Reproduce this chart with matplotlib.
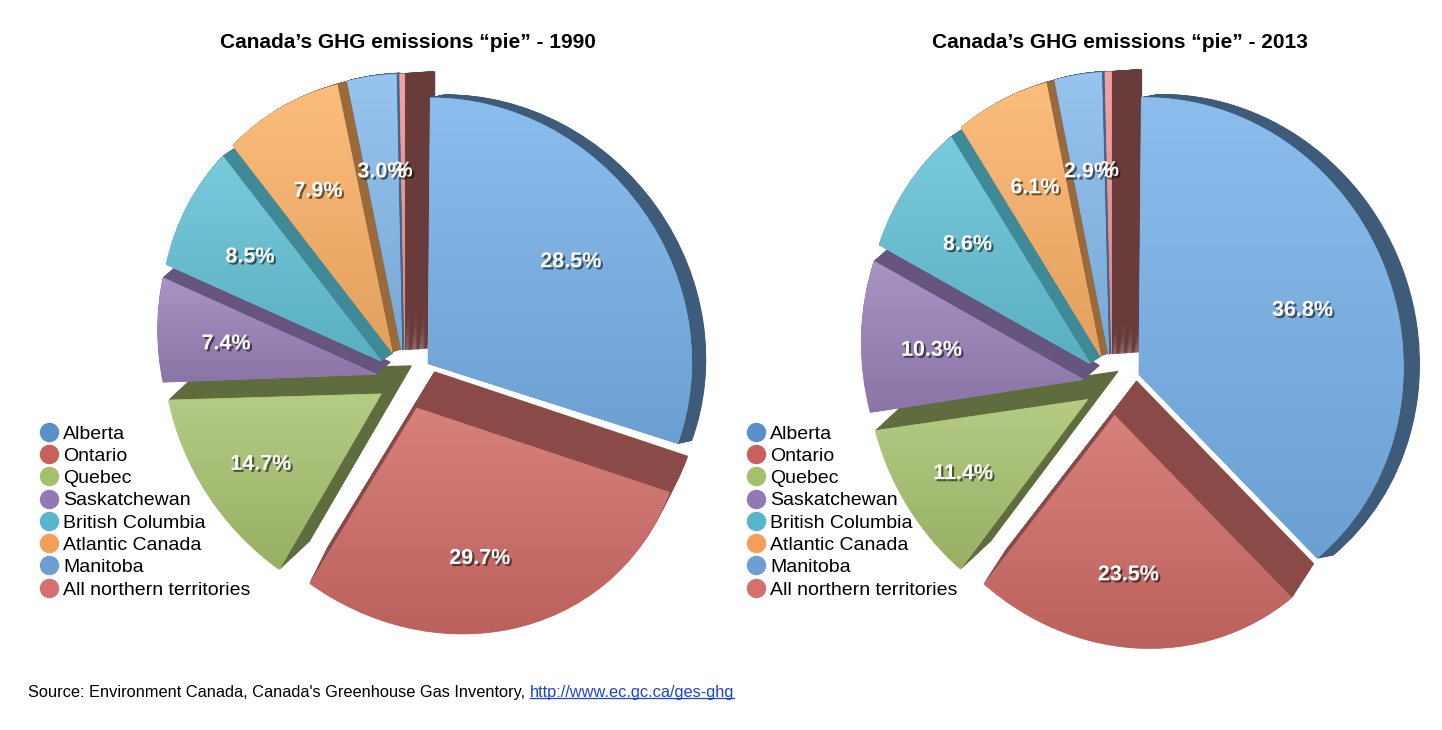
import numpy as np
import matplotlib
matplotlib.use("Agg")
import matplotlib.pyplot as plt
import matplotlib.patheffects as pe
from matplotlib.colors import to_rgb
from matplotlib.lines import Line2D
from matplotlib.transforms import Transform, Affine2D

plt.rcParams['font.family'] = ['Liberation Sans', 'DejaVu Sans']

# data
regions = ['Alberta', 'Ontario', 'Quebec', 'Saskatchewan', 'British Columbia',
           'Atlantic Canada', 'Manitoba', 'All northern territories']
share_1990 = [28.5, 29.7, 14.7, 7.4, 8.5, 7.9, 3.0, 0.3]
share_2013 = [36.8, 23.5, 11.4, 10.3, 8.6, 6.1, 2.9, 0.4]
titles = ['Canada\u2019s GHG emissions \u201cpie\u201d - 1990',
          'Canada\u2019s GHG emissions \u201cpie\u201d - 2013']
source = "Source: Environment Canada, Canada's Greenhouse Gas Inventory, "
link = 'http://www.ec.gc.ca/ges-ghg'

face_colors = ['#78B2EA', '#D06C67', '#A8C36F', '#9A82BA', '#63C2D6',
               '#FCB268', '#86BBEC', '#F29492']
wall_colors = ['#3E5B7A', '#8A4A47', '#5E6C3E', '#66557E', '#3F8A96',
               '#9A6A3C', '#3F6890', '#6A3B3B']
legend_colors = ['#5B8FC9', '#C9605C', '#A3C06A', '#9279B3', '#55B6CC',
                 '#F59E5B', '#6E9ED2', '#D5706E']


class Tilt(Transform):
    """fake perspective so the pie looks tipped like the keynote one"""
    input_dims = 2
    output_dims = 2
    is_separable = False
    has_inverse = False

    def __init__(self, cx, cy, a, e, g, h, s):
        super().__init__()
        self.p = (cx, cy, a, e, g, h, s)

    def transform_non_affine(self, values):
        cx, cy, a, e, g, h, s = self.p
        v = np.asarray(values, dtype=float)
        x, y = v[:, 0], v[:, 1]
        w = 1 + g * x + h * y
        u = a * x / w
        return np.column_stack([cx + u, cy + e * y / w - s * u])


W, H = 1442, 730
fig = plt.figure(figsize=(W / 100, H / 100), dpi=100)
ax = fig.add_axes([0, 0, 1, 1])

txt_style = dict(color='white', fontsize=15.5, fontweight='bold')
shadow = [pe.withSimplePatchShadow(offset=(1.5, -1.5), shadow_rgbFace='black', alpha=0.55)]


def mix(c, other, f):
    c = np.array(to_rgb(c))
    return c + (np.array(other) - c) * f


def draw_pie(values, tilt, shifts, radii):
    explode = [0.12] * len(values)
    # side walls: stack of darker copies pushed back
    for t in np.linspace(1.0, 0.04, 26):
        wedges, _ = ax.pie(values, explode=explode, startangle=90, counterclock=False,
                           colors=wall_colors, radius=1, center=(0, 0))
        for w, (dx, dy), rr in zip(wedges, shifts, radii):
            w.set_radius(rr)
            w.set_transform(tilt + Affine2D().translate(t * dx, t * dy) + ax.transData)
            w.set_edgecolor(w.get_facecolor())
            w.set_linewidth(0.8)
            w.set_zorder(1)
    wedges, _, autotexts = ax.pie(values, explode=explode, startangle=90, counterclock=False,
                                  colors=face_colors, radius=1, center=(0, 0),
                                  autopct='%1.1f%%', pctdistance=0.67, textprops=txt_style)
    for w, c, rr in zip(wedges, face_colors, radii):
        w.set_radius(rr)
        w.set_transform(tilt + ax.transData)
        w.set_edgecolor(w.get_facecolor())
        w.set_linewidth(0.5)
        w.set_zorder(2)
        # soft top-to-bottom shading like the keynote render
        pts = w.get_transform().transform(w.get_path().vertices)
        pts = ax.transData.inverted().transform(pts)
        x0, y0 = pts.min(axis=0)
        x1, y1 = pts.max(axis=0)
        k = np.linspace(0, 1, 64)[:, None]
        grad = mix(c, (0, 0, 0), 0.10) * (1 - k) + mix(c, (1, 1, 1), 0.14) * k
        im = ax.imshow(grad[:, None, :], extent=[x0, x1, y0, y1], origin='lower',
                       aspect='auto', interpolation='bilinear', zorder=2.1)
        im.set_clip_path(w)
    for t in autotexts:
        t.set_transform(tilt + ax.transData)
        t.set_path_effects(shadow)
        t.set_zorder(5)
    autotexts[6].set_zorder(6)
    autotexts[7].set_text('%')  # its digits sit under the Manitoba label


tilt_90 = Tilt(405, 350, 242, 245.5, -0.09, -0.091, 0.1)
tilt_13 = Tilt(1112, 345, 242, 254, -0.076, -0.082, 0.07)
shifts_90 = [(14, 3), (18, 36), (30, 28), (14, 12), (12, 8), (9, 3), (4, 1), (30, 2)]
shifts_13 = [(16, 3), (22, 34), (30, 28), (16, 14), (12, 8), (9, 3), (4, 1), (30, 2)]
radii_90 = [0.965, 1, 1, 1, 1, 1, 1, 1]
radii_13 = [0.985, 1, 1, 1, 1, 1, 1, 1]
draw_pie(share_1990, tilt_90, shifts_90, radii_90)
draw_pie(share_2013, tilt_13, shifts_13, radii_13)

ax.set_xlim(0, W)
ax.set_ylim(0, H)
ax.set_aspect('auto')
ax.axis('off')

# titles
fig.text(408 / W, 1 - 43 / H, titles[0], ha='center', va='center', fontsize=15, fontweight='bold')
fig.text(1120 / W, 1 - 43 / H, titles[1], ha='center', va='center', fontsize=15, fontweight='bold')

# legends
handles = [Line2D([], [], ls='', marker='o', markersize=13, color=c) for c in legend_colors]
for x0 in (39, 746):
    fig.legend(handles, regions, loc='upper left', bbox_to_anchor=(x0 / W, 1 - 425 / H),
               frameon=False, fontsize=14, handlelength=1.0, handletextpad=0.25,
               labelspacing=0.24, borderpad=0, borderaxespad=0)

# source line with blue link
src = fig.text(28 / W, 1 - 692 / H, source, ha='left', va='center', fontsize=11.8)
fig.canvas.draw()
r = fig.canvas.get_renderer()
bb = src.get_window_extent(r)
lk = fig.text(bb.x1 / W, 1 - 692 / H, link, ha='left', va='center', fontsize=11.8, color='#1A44D4')
lb = lk.get_window_extent(r)
fig.add_artist(Line2D([lb.x0 / W, lb.x1 / W], [(lb.y0 + 1.5) / H] * 2, color='#1A44D4', lw=0.9))

fig.savefig('out.png', dpi=100)
